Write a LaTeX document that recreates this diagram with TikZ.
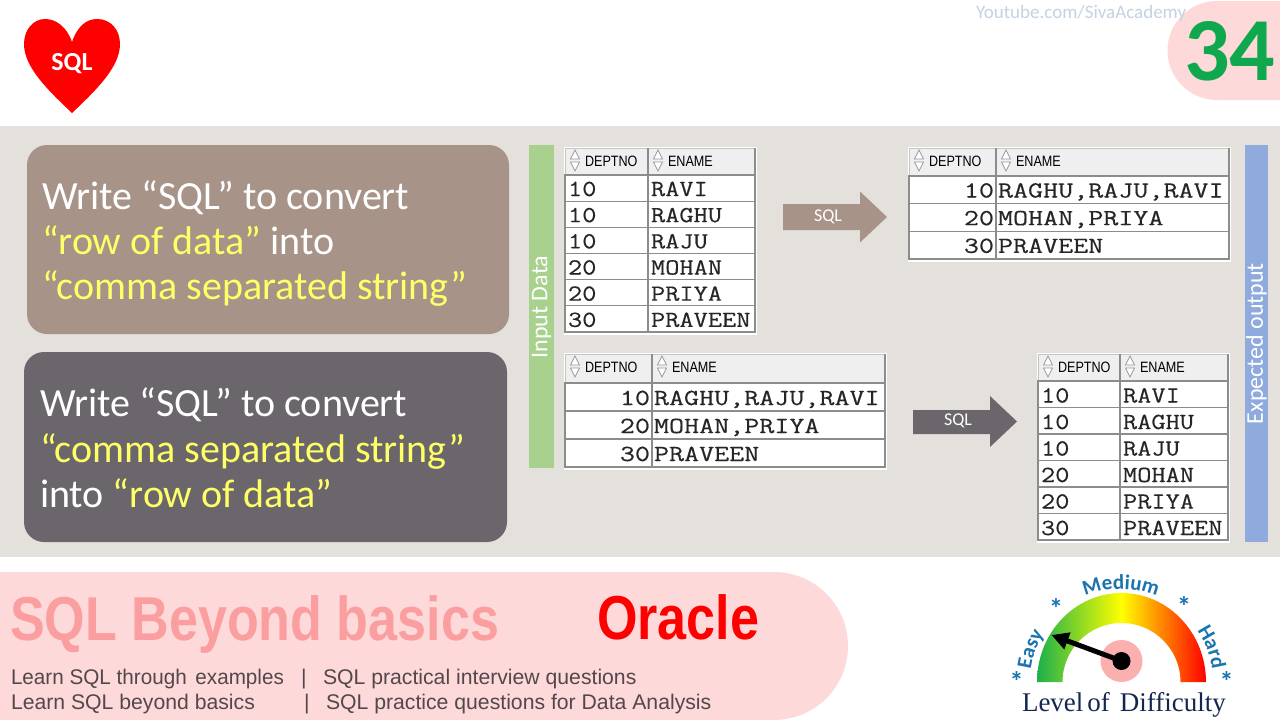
\documentclass[tikz,border=0pt]{standalone}
\usepackage{fontspec}
\setmainfont{Carlito}
\newfontfamily\arialf{Liberation Sans}
\newfontfamily\timesf{Liberation Serif}
\setmonofont[FakeBold=0.3]{Latin Modern Mono}
\usetikzlibrary{decorations.text,arrows.meta}
\definecolor{panel}{HTML}{E4E0DC}
\definecolor{pinkbg}{HTML}{FDD9D9}
\definecolor{taupe}{HTML}{A79388}
\definecolor{slate}{HTML}{6B666C}
\definecolor{yel}{HTML}{FFFF66}
\definecolor{barg}{HTML}{A9D18E}
\definecolor{barb}{HTML}{8FAADC}
\definecolor{gridc}{HTML}{8C8C8C}
\definecolor{headc}{HTML}{EFEFEF}
\definecolor{gaugeblue}{HTML}{1A74B0}
\definecolor{ytc}{HTML}{C3D3E3}
\definecolor{numg}{HTML}{10A84F}
\definecolor{titlep}{HTML}{FB9EA0}
\definecolor{footc}{HTML}{54474C}
\definecolor{navy}{HTML}{14284F}
\definecolor{gleft}{HTML}{1CB04B}
\definecolor{hubp}{HTML}{FBB0B0}
\tikzset{
  x=1pt,y=-1pt,
  lbl/.style={inner sep=0pt,outer sep=0pt},
  big/.style={lbl,anchor=base west,text=white,font=\fontsize{40}{40}\selectfont},
  hd/.style={lbl,anchor=base west,xscale=.84,font=\fontsize{15}{15}\selectfont\arialf,text=black},
  cell/.style={lbl,anchor=base west,xscale=1.2,font=\fontsize{23}{23}\selectfont\ttfamily,text=black!85},
  cellw/.style={lbl,anchor=base west,xscale=1.27,font=\fontsize{23}{23}\selectfont\ttfamily,text=black!85},
  cellr/.style={lbl,anchor=base east,xscale=1.27,font=\fontsize{23}{23}\selectfont\ttfamily,text=black!85},
  foot/.style={lbl,anchor=base west,font=\fontsize{21.2}{22}\selectfont\arialf,text=footc},
  star/.style={lbl,font=\fontsize{28}{28}\selectfont\bfseries,text=gaugeblue},
  tgrid/.style={draw=gridc,line width=1.2pt},
  hgrid/.style={draw=gridc,line width=1.7pt},
  hlite/.style={draw=gridc!50!white,line width=.8pt},
  sorticon/.style={draw=gray!80,line width=.7pt,fill=white},
}
\newcommand{\sicon}[2]{%
  \draw[sorticon] ({#1},{#2-11}) -- ({#1+4.5},{#2-2}) -- ({#1-4.5},{#2-2}) -- cycle;
  \draw[sorticon] ({#1},{#2+10}) -- ({#1+4.5},{#2+1}) -- ({#1-4.5},{#2+1}) -- cycle;
}
% #1 x0, #2 xsep, #3 x1, #4 y0, #5 yhead, #6 y1, #7 rows
\newcommand{\tabframe}[7]{%
  \fill[white] ({#1-1},{#4-1}) rectangle ({#3+2},{#6+2.5});
  \fill[headc] (#1,#4) rectangle (#3,#5);
  \draw[hlite] (#1,#5) -- (#1,#4) -- (#3,#4);
  \draw[hgrid] (#3,#4) -- (#3,#5);
  \draw[hgrid] (#2,#4) -- (#2,#5);
  \draw[tgrid] (#1,#5) rectangle (#3,#6);
  \draw[tgrid] (#2,#5) -- (#2,#6);
  \pgfmathsetmacro{\rh}{(#6-#5)/#7}
  \foreach \i in {1,...,#7}{\draw[tgrid] (#1,{#5+\i*\rh}) -- (#3,{#5+\i*\rh});}
  \draw[hgrid] (#1,#5) -- (#3,#5);
  \node[hd] at ({#1+20},{#4+18.5}) {DEPTNO};
  \node[hd] at ({#2+20},{#4+18.5}) {ENAME};
  \sicon{#1+10}{#4+13}
  \sicon{#2+10}{#4+13}
}
\begin{document}
\begin{tikzpicture}
\useasboundingbox (0,0) rectangle (1280,720);
\fill[white] (0,0) rectangle (1280,720);
\fill[panel] (0,126) rectangle (1280,557);
% top right
\fill[pinkbg] (1280,1) -- (1217,1) arc[start angle=270,end angle=90,radius=49.5] -- (1280,100) -- cycle;
\node[lbl,anchor=base west,text=ytc,font=\fontsize{19}{19}\selectfont] (yt) at (976,18) {Youtube.com/SivaAcademy};
\node[lbl,anchor=base west,text=numg,font=\fontsize{90}{90}\selectfont\bfseries] (num) at (1184,80) {34};
% heart
\fill[red] (72,42) .. controls (67,27) and (56,19) .. (45,19) .. controls (33,19) and (24,30) .. (24,44) .. controls (24,68) and (50,92) .. (72,113) .. controls (94,92) and (120,68) .. (120,44) .. controls (120,30) and (111,19) .. (97,19) .. controls (86,19) and (77,27) .. (72,42) -- cycle;
\node[lbl,text=white,font=\fontsize{26}{26}\selectfont\bfseries] (heart) at (72,64) {SQL};
% boxes
\fill[taupe,rounded corners=20pt] (27,145) rectangle (509,334);
\fill[slate,rounded corners=20pt] (24,352) rectangle (507,542);
\node[big] (a1) at (42,209) {Write “SQL” to convert};
\node[big] (a2) at (42,254) {\textcolor{yel}{“row of data”} into};
\node[big] (a3) at (42,299) {\textcolor{yel}{“comma separated string”}};
\node[big] (b1) at (40,416) {Write “SQL” to convert};
\node[big] (b2) at (40,462) {\textcolor{yel}{“comma separated string”}};
\node[big] (b3) at (40,507) {into \textcolor{yel}{“row of data”}};
% bars
\fill[barg] (529,145) rectangle (554,468);
\fill[barb] (1245,145) rectangle (1268,542);
\node[lbl,rotate=90,text=white,font=\fontsize{24}{24}\selectfont] (inp) at (541.5,307) {Input Data};
\node[lbl,rotate=90,text=white,font=\fontsize{24}{24}\selectfont] (out) at (1256.5,343.5) {Expected output};
% tables
\tabframe{565}{648}{755}{148}{175}{332}{6}
\foreach \n/\s [count=\i from 0] in {10/RAVI,10/RAGHU,10/RAJU,20/MOHAN,20/PRIYA,30/PRAVEEN}{
  \node[cell] at (568,{175+26.17*\i+21}) {\n};
  \node[cell] at (651,{175+26.17*\i+21}) {\s};
}
\tabframe{909}{996}{1229}{148}{176}{259}{3}
\foreach \n/\s [count=\i from 0] in {10/{RAGHU,RAJU,RAVI},20/{MOHAN,PRIYA},30/PRAVEEN}{
  \node[cellr] at (994,{176+27.67*\i+21.5}) {\n};
  \node[cellw] at (998,{176+27.67*\i+21.5}) {\s};
}
\tabframe{565}{652}{885}{354}{383}{467}{3}
\foreach \n/\s [count=\i from 0] in {10/{RAGHU,RAJU,RAVI},20/{MOHAN,PRIYA},30/PRAVEEN}{
  \node[cellr] at (650,{383+28*\i+22}) {\n};
  \node[cellw] at (654,{383+28*\i+22}) {\s};
}
\tabframe{1038}{1120}{1228}{354}{381}{540}{6}
\foreach \n/\s [count=\i from 0] in {10/RAVI,10/RAGHU,10/RAJU,20/MOHAN,20/PRIYA,30/PRAVEEN}{
  \node[cell] at (1041,{381+26.5*\i+21.5}) {\n};
  \node[cell] at (1123,{381+26.5*\i+21.5}) {\s};
}
% SQL arrows
\fill[taupe] (783,204) -- (860,204) -- (860,191.5) -- (887,217) -- (860,242.5) -- (860,230) -- (783,230) -- cycle;
\node[lbl,text=white,font=\fontsize{18}{18}\selectfont] (s1) at (828,216.5) {SQL};
\fill[slate] (913,410) -- (990,410) -- (990,396) -- (1017,421.5) -- (990,447) -- (990,434) -- (913,434) -- cycle;
\node[lbl,text=white,font=\fontsize{18}{18}\selectfont] (s2) at (958,421) {SQL};
% bottom banner
\fill[pinkbg] (0,572) -- (774,572) arc[start angle=270,end angle=450,radius=74] -- (0,720) -- cycle;
\node[lbl,anchor=base west,xscale=.84,text=titlep,font=\fontsize{62}{62}\selectfont\arialf\bfseries] (t1) at (10,640) {SQL Beyond basics};
\node[lbl,anchor=base west,xscale=.84,text=red,font=\fontsize{62}{62}\selectfont\arialf\bfseries] (t2) at (597,639) {Oracle};
\node[foot,xscale=.975] (f1) at (11,684) {Learn SQL through\hspace{3pt} examples};
\node[foot] (f2) at (301,684) {|};
\node[foot] (f3) at (323,684) {SQL practical interview questions};
\node[foot] (f4) at (11,709) {Learn SQL beyond basics};
\node[foot] (f5) at (304,709) {|};
\node[foot] (f6) at (326,709) {SQL practice questions for Data Analysis};
% gauge
\shade[left color=gleft,right color=red,middle color=yellow]
  (1037,682) arc[start angle=180,end angle=360,x radius=84.5,y radius=89] -- (1180.5,682) arc[start angle=360,end angle=180,radius=59] -- cycle;
\fill[hubp] (1121.5,661) circle[radius=21];
\node[lbl,circle,fill=black,minimum size=18pt] (hub) at (1121.5,661) {};
\coordinate (tip) at (1051.5,635);
\draw[line width=5pt,-{Triangle[width=17pt,length=17pt]}] (hub.center) -- (tip);
\path[decorate,decoration={text along path,text align=center,text={|\fontsize{21}{21}\selectfont\bfseries\color{gaugeblue}|Medium}}]
  (1121,682) ++(235:93) arc[start angle=235,end angle=305,radius=93];
\path[decorate,decoration={text along path,text align=center,text={|\fontsize{21}{21}\selectfont\bfseries\color{gaugeblue}|Easy}}]
  (1121,682) ++(175:91) arc[start angle=175,end angle=225,radius=91];
\path[decorate,decoration={text along path,text align=center,text={|\fontsize{21}{21}\selectfont\bfseries\color{gaugeblue}|Hard}}]
  (1121,682) ++(314:92) arc[start angle=314,end angle=364,radius=92];
\node[star] (st1) at (1016.7,681) {*};
\node[star] (st2) at (1056,608) {*};
\node[star] (st3) at (1184,606) {*};
\node[star] (st4) at (1226.7,681) {*};
\node[lbl,anchor=base west,text=navy,font=\fontsize{27}{27}\selectfont\timesf] (lod) at (1022,711) {Level\hspace{4pt}of\hspace{10pt}Difficulty};
\end{tikzpicture}
\end{document}
